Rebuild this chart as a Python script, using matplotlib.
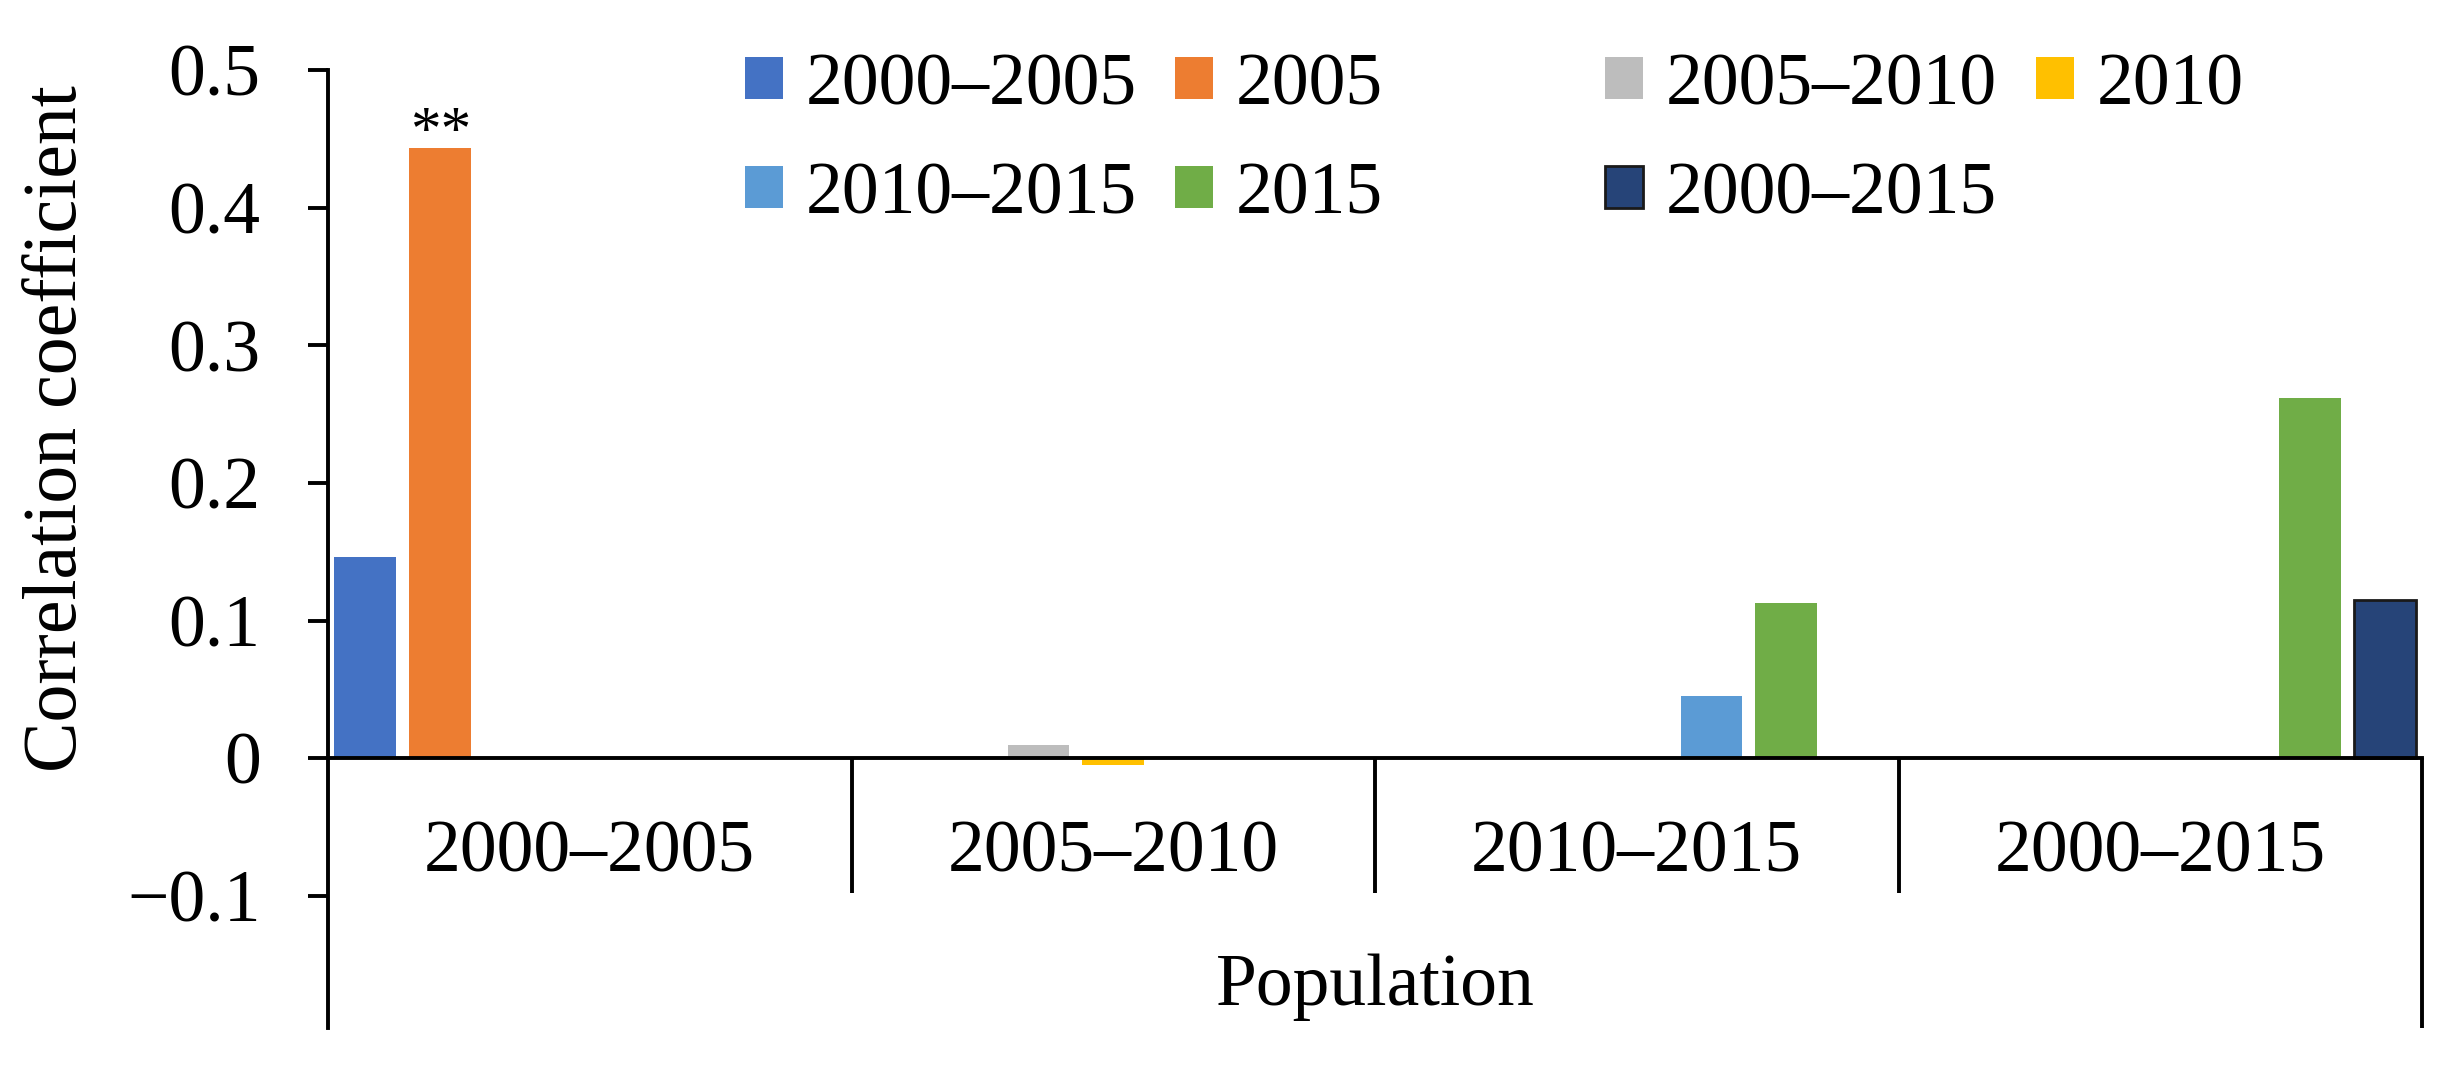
import numpy as np
import matplotlib
matplotlib.use("Agg")
import matplotlib.pyplot as plt

plt.rcParams['font.family'] = ['Liberation Serif', 'DejaVu Serif']

# chart values
categories = ['2000–2005', '2005–2010', '2010–2015', '2000–2015']
series_names = ['2000–2005', '2005', '2005–2010', '2010', '2010–2015', '2015', '2000–2015']
series_colors = ['#4472C4', '#ED7D31', '#BDBDBD', '#FFC000', '#5B9BD5', '#70AD47', '#264478']
nan = np.nan
v_2000_2005 = [0.146, nan, nan, nan]
v_2005 = [0.443, nan, nan, nan]
v_2005_2010 = [nan, 0.0095, nan, nan]
v_2010 = [nan, -0.005, nan, nan]
v_2010_2015 = [nan, nan, 0.0455, nan]
v_2015 = [nan, nan, 0.113, 0.262]
v_2000_2015 = [nan, nan, nan, 0.115]
series_values = [v_2000_2005, v_2005, v_2005_2010, v_2010, v_2010_2015, v_2015, v_2000_2015]
yticks = [-0.1, 0, 0.1, 0.2, 0.3, 0.4, 0.5]
ytick_labels = ['−0.1', '0', '0.1', '0.2', '0.3', '0.4', '0.5']
star_series = 1
star_cat = 0
star_text = '**'

FS = 53
W, H = 2452, 1070
fig = plt.figure(figsize=(W / 100, H / 100), dpi=100)
ax = fig.add_axes([328 / W, 1 - 1028 / H, (2422 - 328) / W, (1028 - 70) / H])

n = len(series_names)
slot = 1.0 / n
bw = slot * 0.827
x = np.arange(len(categories))
handles = []
for i, (name, vals, col) in enumerate(zip(series_names, series_values, series_colors)):
    ec = '#1a1a1a' if i == n - 1 else col
    lw = 2 if i == n - 1 else 0
    b = ax.bar(x + (i - (n - 1) / 2) * slot, vals, bw, color=col, edgecolor=ec,
               linewidth=lw, label=name, zorder=2)
    handles.append(b)

# significance mark
ax.text(star_cat + (star_series - (n - 1) / 2) * slot, series_values[star_series][star_cat],
        star_text, ha='center', va='baseline', fontsize=44)

ax.set_xlim(-0.5, len(categories) - 0.5)
ax.set_ylim(-0.196, 0.5)
ax.set_yticks(yticks)
ax.set_yticklabels(ytick_labels, fontsize=FS)
ax.tick_params(axis='y', direction='out', length=14.5, width=2.8, pad=34)
ax.set_xticks([])

for s in ['top', 'right']:
    ax.spines[s].set_visible(False)
ax.spines['left'].set_linewidth(2.8)
ax.spines['bottom'].set_position(('data', 0))
ax.spines['bottom'].set_linewidth(2.8)
ax.spines['bottom'].set_zorder(3)

# multi-level category axis lines
ax.vlines(x[:-1] + 0.5, -0.098, 0, color='black', linewidth=2.8, clip_on=False)
ax.vlines(x[-1] + 0.5, -0.196, 0, color='black', linewidth=2.8, clip_on=False)

for c, lab in zip(x, categories):
    ax.text(c, -0.082, lab, ha='center', va='baseline', fontsize=FS)
ax.text(x.mean(), -0.179, 'Population', ha='center', va='baseline', fontsize=FS)

fig.text(58 / W, 1 - 429 / H, 'Correlation coefficient', rotation=90,
         ha='center', va='center', fontsize=54.5)

# legend laid out in a fixed grid, row by row
col_x = [745, 1175, 1605, 2036]
ncols = len(col_x)
for k, cx in enumerate(col_x):
    idx = list(range(k, n, ncols))
    leg = ax.legend([handles[j] for j in idx], [series_names[j] for j in idx],
                    loc='upper left', bbox_to_anchor=(cx / W, 1 - 53 / H),
                    bbox_transform=fig.transFigure, frameon=False, fontsize=FS,
                    borderpad=0, borderaxespad=0, handlelength=0.52, handleheight=0.5,
                    handletextpad=0.3, labelspacing=0.56)
    if k < ncols - 1:
        ax.add_artist(leg)

fig.savefig('out.png', dpi=100, facecolor='white')
